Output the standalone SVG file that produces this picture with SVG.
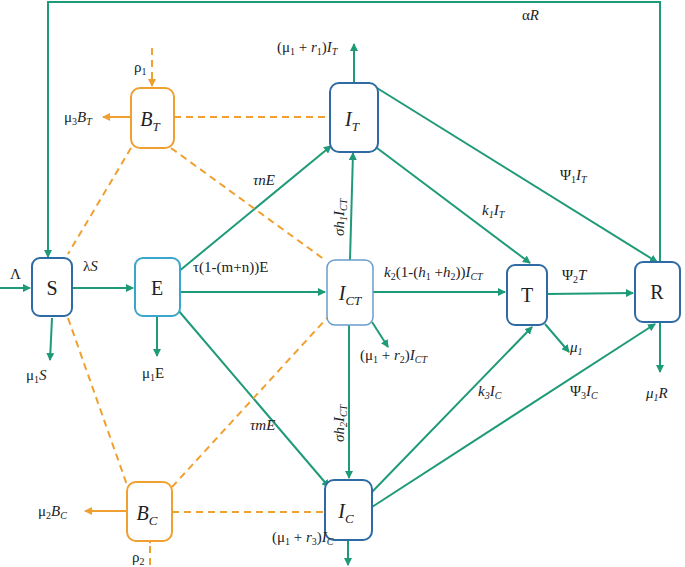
<svg xmlns="http://www.w3.org/2000/svg" width="685" height="567" viewBox="0 0 685 567">
<defs>
<marker id="ag" markerWidth="8" markerHeight="8" refX="7" refY="4" orient="auto" markerUnits="userSpaceOnUse"><path d="M0,0 L8,4 L0,8 z" fill="#1f9a78"/></marker>
<marker id="ao" markerWidth="8" markerHeight="8" refX="7" refY="4" orient="auto" markerUnits="userSpaceOnUse"><path d="M0,0 L8,4 L0,8 z" fill="#f0a030"/></marker>
</defs>
<style>
.g{stroke:#1f9a78;stroke-width:2;fill:none;marker-end:url(#ag)}
.ob{stroke:#f0a030;stroke-width:2;fill:none;marker-end:url(#ao)}
.o{stroke:#f0a030;stroke-width:2;fill:none;stroke-dasharray:7,5}
.oa{stroke:#f0a030;stroke-width:2;fill:none;marker-end:url(#ao)}
.n{fill:#fff;stroke:#2e6aa3;stroke-width:2}
.nb{fill:#fff;stroke:#f0a030;stroke-width:2}
text{font-family:"Liberation Serif",serif;font-size:15px;fill:#222}
.big{font-size:20px}
</style>
<rect width="685" height="567" fill="#fff"/>
<g id="connectors">
<path class="g" d="M660,262 V2 H48 V257"/>
<path class="g" d="M0,288 H30"/>
<path class="g" d="M72,288 H133"/>
<path class="g" d="M180,292 H325"/>
<path class="g" d="M178,272 L331,146"/>
<path class="g" d="M178,310 L329,487"/>
<path class="g" d="M373,292 H505"/>
<path class="g" d="M350,260 L353,153"/>
<path class="g" d="M349,325 V478"/>
<path class="g" d="M354,83 V44"/>
<path class="g" d="M377,88 L657,262"/>
<path class="g" d="M377,148 L530,263"/>
<path class="g" d="M547,294 L633,293"/>
<path class="g" d="M372,492 L532,327"/>
<path class="g" d="M372,507 L655,324"/>
<path class="g" d="M348,540 V565"/>
<path class="g" d="M372,322 L388,347"/>
<path class="g" d="M545,324 L569,352"/>
<path class="g" d="M660,322 V372"/>
<path class="g" d="M52,318 L50,360"/>
<path class="g" d="M157,316 V356"/>
<path class="ob" d="M131,117 H103"/>
<path class="ob" d="M127,511 H85"/>
<path class="o" d="M152,48 V80"/><path class="oa" d="M152,78 V86"/>
<path class="o" d="M150,565 V530"/><path class="oa" d="M150,532 V543"/>
<path class="o" d="M174,117 H330"/>
<path class="o" d="M172,512 H325"/>
<path class="o" d="M131,148 L68,254"/>
<path class="o" d="M171,148 L325,260"/>
<path class="o" d="M68,318 L127,485"/>
<path class="o" d="M172,487 L327,318"/>
</g>
<g id="S"><rect class="n" x="32" y="258" width="40" height="58" rx="8"/><text class="big" x="52" y="295" text-anchor="middle">S</text></g>
<g id="E"><rect class="n" style="stroke:#3aa6cc" x="135" y="258" width="45" height="58" rx="8"/><text class="big" x="157" y="295" text-anchor="middle">E</text></g>
<g id="BT"><rect class="nb" x="131" y="88" width="43" height="60" rx="9"/><text class="big" x="150" y="126" text-anchor="middle" font-style="italic">B<tspan font-size="13" dy="5">T</tspan></text></g>
<g id="IT"><rect class="n" x="330" y="83" width="48" height="69" rx="9"/><text class="big" x="352" y="126" text-anchor="middle" font-style="italic">I<tspan font-size="13" dy="5">T</tspan></text></g>
<g id="ICT"><rect class="n" style="stroke:#6a9ccc;stroke-width:1.5" x="327" y="260" width="46" height="65" rx="8"/><text class="big" x="350" y="300" text-anchor="middle" font-style="italic">I<tspan font-size="13" dy="5">CT</tspan></text></g>
<g id="T"><rect class="n" x="507" y="265" width="40" height="60" rx="8"/><text class="big" x="527" y="302" text-anchor="middle">T</text></g>
<g id="R"><rect class="n" x="635" y="262" width="45" height="60" rx="8"/><text class="big" x="657" y="299" text-anchor="middle">R</text></g>
<g id="BC"><rect class="nb" x="127" y="482" width="45" height="59" rx="9"/><text class="big" x="147" y="520" text-anchor="middle" font-style="italic">B<tspan font-size="13" dy="5">C</tspan></text></g>
<g id="IC"><rect class="n" x="325" y="480" width="47" height="60" rx="9"/><text class="big" x="346" y="518" text-anchor="middle" font-style="italic">I<tspan font-size="13" dy="5">C</tspan></text></g>
<g id="labels">
<text x="522" y="20">α<tspan font-style="italic">R</tspan></text>
<text x="277" y="52">(μ<tspan font-size="10" dy="3">1</tspan><tspan dy="-3"> + </tspan><tspan font-style="italic">r</tspan><tspan font-size="10" dy="3">1</tspan><tspan dy="-3">)</tspan><tspan font-style="italic">I</tspan><tspan font-size="10" dy="3" font-style="italic">T</tspan></text>
<text x="134" y="72">ρ<tspan font-size="10" dy="3">1</tspan></text>
<text x="64" y="122">μ<tspan font-size="10" dy="3">3</tspan><tspan dy="-3" font-style="italic">B</tspan><tspan font-size="10" dy="3" font-style="italic">T</tspan></text>
<text x="253" y="185" font-style="italic">τnE</text>
<text x="0" y="0" transform="translate(344,236) rotate(-90)" font-style="italic">σh<tspan font-size="10" dy="3">1</tspan><tspan dy="-3">I</tspan><tspan font-size="10" dy="3">CT</tspan></text>
<text x="482" y="215" font-style="italic">k<tspan font-size="10" dy="3">1</tspan><tspan dy="-3">I</tspan><tspan font-size="10" dy="3">T</tspan></text>
<text x="560" y="180">Ψ<tspan font-size="10" dy="3">1</tspan><tspan dy="-3" font-style="italic">I</tspan><tspan font-size="10" dy="3" font-style="italic">T</tspan></text>
<text x="10" y="279">Λ</text>
<text x="83" y="271">λ<tspan font-style="italic">S</tspan></text>
<text x="193" y="272">τ(1-(m+n))E</text>
<text x="384" y="277"><tspan font-style="italic">k</tspan><tspan font-size="10" dy="3">2</tspan><tspan dy="-3">(1-(</tspan><tspan font-style="italic">h</tspan><tspan font-size="10" dy="3">1</tspan><tspan dy="-3"> +</tspan><tspan font-style="italic">h</tspan><tspan font-size="10" dy="3">2</tspan><tspan dy="-3">))</tspan><tspan font-style="italic">I</tspan><tspan font-size="10" dy="3" font-style="italic">CT</tspan></text>
<text x="562" y="280">Ψ<tspan font-size="10" dy="3">2</tspan><tspan dy="-3" font-style="italic">T</tspan></text>
<text x="360" y="360">(μ<tspan font-size="10" dy="3">1</tspan><tspan dy="-3"> + </tspan><tspan font-style="italic">r</tspan><tspan font-size="10" dy="3">2</tspan><tspan dy="-3">)</tspan><tspan font-style="italic">I</tspan><tspan font-size="10" dy="3" font-style="italic">CT</tspan></text>
<text x="570" y="352" font-style="italic">μ<tspan font-size="10" dy="3">1</tspan></text>
<text x="26" y="380">μ<tspan font-size="10" dy="3">1</tspan><tspan dy="-3" font-style="italic">S</tspan></text>
<text x="142" y="378">μ<tspan font-size="10" dy="3">1</tspan><tspan dy="-3">E</tspan></text>
<text x="0" y="0" transform="translate(344,442) rotate(-90)" font-style="italic">σh<tspan font-size="10" dy="3">2</tspan><tspan dy="-3">I</tspan><tspan font-size="10" dy="3">CT</tspan></text>
<text x="478" y="396" font-style="italic">k<tspan font-size="10" dy="3">3</tspan><tspan dy="-3">I</tspan><tspan font-size="10" dy="3">C</tspan></text>
<text x="570" y="396">Ψ<tspan font-size="10" dy="3">3</tspan><tspan dy="-3" font-style="italic">I</tspan><tspan font-size="10" dy="3" font-style="italic">C</tspan></text>
<text x="646" y="398" font-style="italic">μ<tspan font-size="10" dy="3">1</tspan><tspan dy="-3">R</tspan></text>
<text x="250" y="430" font-style="italic">τmE</text>
<text x="38" y="516">μ<tspan font-size="10" dy="3">2</tspan><tspan dy="-3" font-style="italic">B</tspan><tspan font-size="10" dy="3" font-style="italic">C</tspan></text>
<text x="132" y="562">ρ<tspan font-size="10" dy="3">2</tspan></text>
<text x="272" y="542">(μ<tspan font-size="10" dy="3">1</tspan><tspan dy="-3"> + </tspan><tspan font-style="italic">r</tspan><tspan font-size="10" dy="3">3</tspan><tspan dy="-3">)</tspan><tspan font-style="italic">I</tspan><tspan font-size="10" dy="3" font-style="italic">C</tspan></text>
</g>
</svg>
